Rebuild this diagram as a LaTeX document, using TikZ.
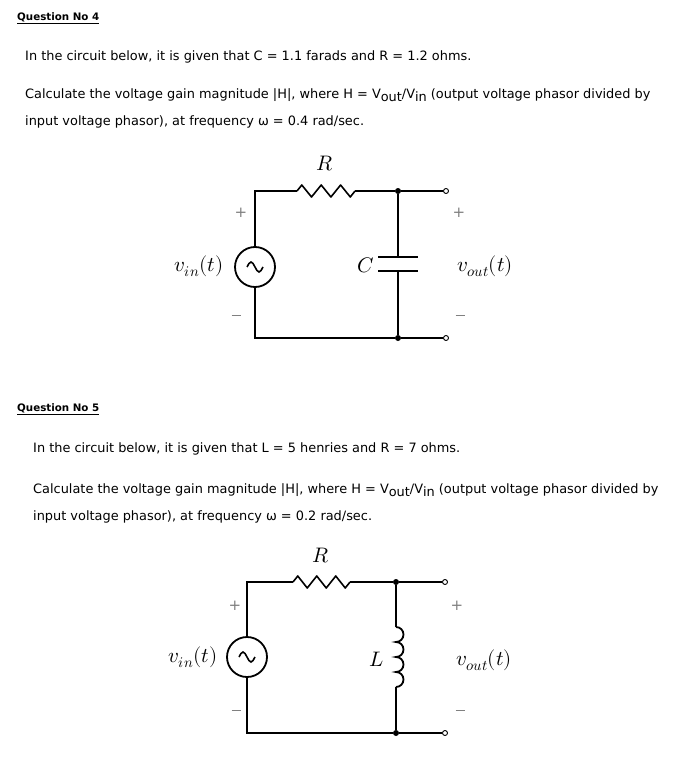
\documentclass[tikz,border=0pt]{standalone}
\usepackage{fontspec}
\setmainfont{DejaVu Sans}
\usepackage{unicode-math}
\setmathfont{Latin Modern Math}
\tikzset{
  txt/.style={anchor=west,inner sep=0pt,font=\fontsize{12.9}{15}\selectfont},
  wire/.style={line width=1.2pt},
  lab/.style={inner sep=0pt,font=\fontsize{21}{24}\selectfont},
  pm/.style={inner sep=0pt,text=gray,font=\fontsize{15}{17}\selectfont},
  term/.style={circle,draw,fill=white,inner sep=0pt,minimum size=5pt,line width=0.9pt},
  dot/.style={circle,fill,inner sep=0pt,minimum size=6pt}
}
\newcommand{\vsub}[1]{\raisebox{-0.45ex}{#1}}
\newcommand{\mybar}{\rule{9pt}{0.9pt}}
\begin{document}
\begin{tikzpicture}[x=1pt,y=-1pt]
\useasboundingbox (0,0) rectangle (683,773);
% ---------- texts ----------
\node[txt,font=\bfseries\fontsize{10.3}{12}\selectfont] (q4) at (17,18) {\underline{Question No 4}};
\node[txt] (t41) at (25,57) {In the circuit below, it is given that C = 1.1 farads and R = 1.2 ohms.};
\node[txt] (t42) at (25,95) {Calculate the voltage gain magnitude |H|, where H = V\vsub{out}/V\vsub{in} (output voltage phasor divided by};
\node[txt] (t43) at (25,122) {input voltage phasor), at frequency ω = 0.4 rad/sec.};
\node[txt,font=\bfseries\fontsize{10.3}{12}\selectfont] (q5) at (17,409) {\underline{Question No 5}};
\node[txt] (t51) at (33,449) {In the circuit below, it is given that L = 5 henries and R = 7 ohms.};
\node[txt] (t52) at (33,490) {Calculate the voltage gain magnitude |H|, where H = V\vsub{out}/V\vsub{in} (output voltage phasor divided by};
\node[txt] (t53) at (33,517) {input voltage phasor), at frequency ω = 0.2 rad/sec.};
% ---------- circuit 1 ----------
\coordinate (a1) at (255,191);
\coordinate (b1) at (297,191);
\coordinate (c1) at (355,191);
\node[dot] (j1) at (398,191) {};
\node[term] (o1) at (446,191) {};
\node[dot] (k1) at (398,338) {};
\node[term] (p1) at (446,338) {};
\coordinate (g1) at (255,338);
\node[circle,draw,line width=1.8pt,minimum size=40pt,inner sep=0pt] (s1) at (255,267) {};
\draw[line width=1.6pt] (247,267) sin (251,262) cos (255,267) sin (259,272) cos (263,267);
\draw[wire] (s1.north) -- (a1) -- (b1);
\draw[line width=1.6pt,line join=round] (b1) -- ++(4.8,-6) -- ++(9.7,12) -- ++(9.7,-12) -- ++(9.7,12) -- ++(9.7,-12) -- ++(9.7,12) -- (c1);
\draw[wire] (c1) -- (j1) -- (o1);
\draw[wire] (s1.south) -- (g1) -- (k1) -- (p1);
\coordinate (cp1) at (398,257);
\coordinate (cp2) at (398,271);
\draw[wire] (j1) -- (cp1);
\draw[wire] (cp2) -- (k1);
\draw[line width=2pt] (378,257) -- (418,257);
\draw[line width=2pt] (378,271) -- (418,271);
\node[lab] (r1) at (325,164) {$R$};
\node[lab] (cl) at (366,265) {$C$};
\node[lab] (vi1) at (199,266) {$v_{in}(t)$};
\node[lab] (vo1) at (485,266) {$v_{out}(t)$};
\node[pm] at (241,213) {+};
\node[pm] at (459,213) {+};
\node[pm] at (236,315) {\mybar};
\node[pm] at (460,315) {\mybar};
% ---------- circuit 2 ----------
\coordinate (a2) at (247,582);
\coordinate (b2) at (293,582);
\coordinate (c2) at (350,582);
\node[dot] (j2) at (396,582) {};
\node[term] (o2) at (445,582) {};
\node[dot] (k2) at (396,733) {};
\node[term] (p2) at (445,733) {};
\coordinate (g2) at (247,733);
\node[circle,draw,line width=1.8pt,minimum size=40pt,inner sep=0pt] (s2) at (247,657) {};
\draw[line width=1.6pt] (239,657) sin (243,652) cos (247,657) sin (251,662) cos (255,657);
\draw[wire] (s2.north) -- (a2) -- (b2);
\draw[line width=1.6pt,line join=round] (b2) -- ++(4.75,-6) -- ++(9.5,12) -- ++(9.5,-12) -- ++(9.5,12) -- ++(9.5,-12) -- ++(9.5,12) -- (c2);
\draw[wire] (c2) -- (j2) -- (o2);
\draw[wire] (s2.south) -- (g2) -- (k2) -- (p2);
\coordinate (l1) at (396,627);
\coordinate (l2) at (396,687);
\draw[wire] (j2) -- (l1);
\draw[wire] (l2) -- (k2);
\draw[line width=1.8pt] (l1) arc[start angle=-90,end angle=90,radius=7.5]
  arc[start angle=-90,end angle=90,radius=7.5]
  arc[start angle=-90,end angle=90,radius=7.5]
  arc[start angle=-90,end angle=90,radius=7.5];
\node[lab] (r2) at (321,556) {$R$};
\node[lab] (ll) at (377,659) {$L$};
\node[lab] (vi2) at (193,657) {$v_{in}(t)$};
\node[lab] (vo2) at (484,660) {$v_{out}(t)$};
\node[pm] at (235,606) {+};
\node[pm] at (457,606) {+};
\node[pm] at (236,710) {\mybar};
\node[pm] at (460,710) {\mybar};
\end{tikzpicture}
\end{document}
